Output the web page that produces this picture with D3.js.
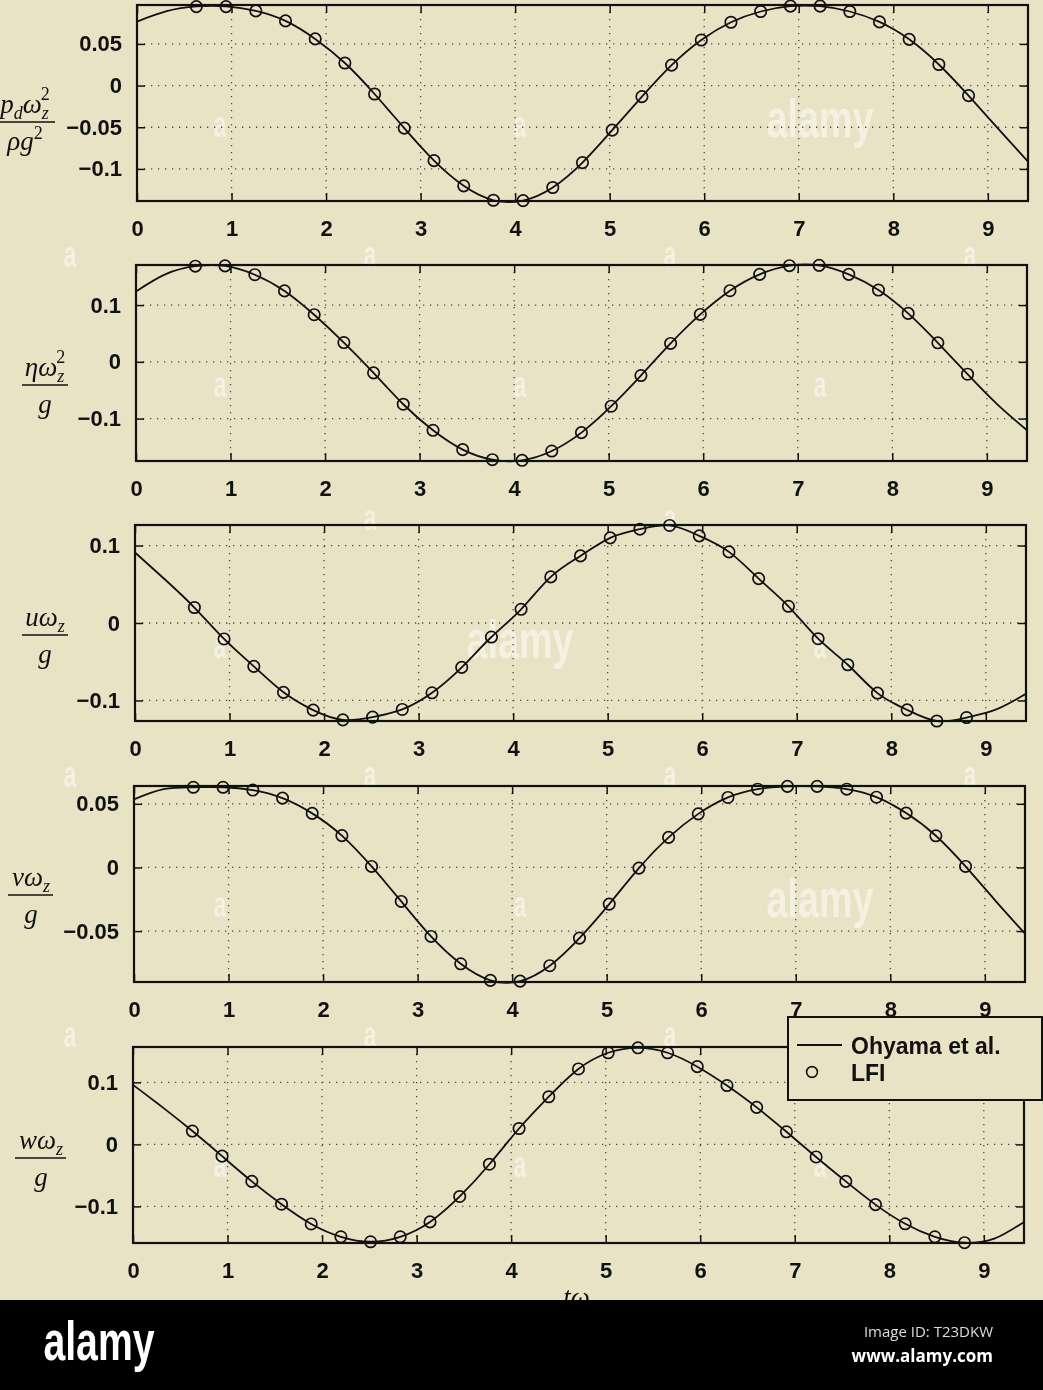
<!DOCTYPE html>
<html><head><meta charset="utf-8">
<script src="https://cdn.jsdelivr.net/npm/d3@7"></script>
<style>html,body{margin:0;padding:0;background:#e9e3c6;} svg{display:block}</style>
</head><body><svg id="c" width="1043" height="1390"></svg>
<script>
// ---- data ----
const tLine = [0, 0.314, 0.628, 0.942, 1.257, 1.571, 1.885, 2.199, 2.513, 2.827, 3.142, 3.456, 3.770, 4.084, 4.398, 4.712, 5.027, 5.341, 5.655, 5.969, 6.283, 6.597, 6.912, 7.226, 7.540, 7.854, 8.168, 8.482, 8.796, 9.111, 9.425];
const tLFI = [0.628, 0.942, 1.257, 1.571, 1.885, 2.199, 2.513, 2.827, 3.142, 3.456, 3.770, 4.084, 4.398, 4.712, 5.027, 5.341, 5.655, 5.969, 6.283, 6.597, 6.912, 7.226, 7.540, 7.854, 8.168, 8.482, 8.796];

const pOhyama = [0.0768, 0.0893, 0.0950, 0.0950, 0.0896, 0.0776, 0.0560, 0.0271, -0.0101, -0.0511, -0.0901, -0.1203, -0.1376, -0.1380, -0.1223, -0.0925, -0.0535, -0.0133, 0.0245, 0.0547, 0.0760, 0.0889, 0.0953, 0.0953, 0.0889, 0.0764, 0.0555, 0.0253, -0.0121, -0.0519, -0.0913];
const pLFI = [0.0948, 0.0948, 0.0896, 0.0776, 0.0560, 0.0271, -0.0101, -0.0511, -0.0901, -0.1203, -0.1376, -0.1380, -0.1223, -0.0925, -0.0535, -0.0133, 0.0245, 0.0547, 0.0760, 0.0889, 0.0953, 0.0953, 0.0889, 0.0764, 0.0555, 0.0253, -0.0121];

const etaOhyama = [0.1240, 0.1545, 0.1685, 0.1690, 0.1535, 0.1250, 0.0830, 0.0340, -0.0194, -0.0747, -0.1206, -0.1547, -0.1724, -0.1735, -0.1571, -0.1247, -0.0782, -0.0241, 0.0324, 0.0835, 0.1253, 0.1541, 0.1694, 0.1700, 0.1541, 0.1265, 0.0853, 0.0335, -0.0218, -0.0750, -0.1206];
const etaLFI = [0.1685, 0.1690, 0.1535, 0.1250, 0.0830, 0.0340, -0.0194, -0.0747, -0.1206, -0.1547, -0.1724, -0.1735, -0.1571, -0.1247, -0.0782, -0.0241, 0.0324, 0.0835, 0.1253, 0.1541, 0.1694, 0.1700, 0.1541, 0.1265, 0.0853, 0.0335, -0.0218];

const uOhyama = [0.0910, 0.0565, 0.0200, -0.0206, -0.0560, -0.0895, -0.1124, -0.1250, -0.1215, -0.1116, -0.0901, -0.0573, -0.0181, 0.0177, 0.0595, 0.0866, 0.1099, 0.1211, 0.1259, 0.1125, 0.0918, 0.0573, 0.0216, -0.0203, -0.0539, -0.0905, -0.1121, -0.1265, -0.1220, -0.1116, -0.0914];
const uLFI = [0.0200, -0.0206, -0.0560, -0.0895, -0.1124, -0.1250, -0.1215, -0.1116, -0.0901, -0.0573, -0.0181, 0.0177, 0.0595, 0.0866, 0.1099, 0.1211, 0.1259, 0.1125, 0.0918, 0.0573, 0.0216, -0.0203, -0.0539, -0.0905, -0.1121, -0.1265, -0.1220];

const vOhyama = [0.0535, 0.0615, 0.0630, 0.0630, 0.0608, 0.0545, 0.0425, 0.0250, 0.0008, -0.0267, -0.0542, -0.0757, -0.0887, -0.0893, -0.0772, -0.0555, -0.0288, -0.0005, 0.0236, 0.0421, 0.0550, 0.0615, 0.0637, 0.0637, 0.0615, 0.0552, 0.0427, 0.0249, 0.0008, -0.0260, -0.0520];
const vLFI = [0.0630, 0.0630, 0.0608, 0.0545, 0.0425, 0.0250, 0.0008, -0.0267, -0.0542, -0.0757, -0.0887, -0.0893, -0.0772, -0.0555, -0.0288, -0.0005, 0.0236, 0.0421, 0.0550, 0.0615, 0.0637, 0.0637, 0.0615, 0.0552, 0.0427, 0.0249, 0.0008];

const wOhyama = [0.0960, 0.0597, 0.0215, -0.0190, -0.0597, -0.0965, -0.1283, -0.1490, -0.1570, -0.1490, -0.1250, -0.0840, -0.0320, 0.0256, 0.0768, 0.1216, 0.1477, 0.1557, 0.1477, 0.1253, 0.0949, 0.0597, 0.0203, -0.0203, -0.0597, -0.0971, -0.1280, -0.1490, -0.1585, -0.1520, -0.1250];
const wLFI = [0.0215, -0.0190, -0.0597, -0.0965, -0.1283, -0.1490, -0.1570, -0.1490, -0.1250, -0.0840, -0.0320, 0.0256, 0.0768, 0.1216, 0.1477, 0.1557, 0.1477, 0.1253, 0.0949, 0.0597, 0.0203, -0.0203, -0.0597, -0.0971, -0.1280, -0.1490, -0.1585];

const xTicks = [0, 1, 2, 3, 4, 5, 6, 7, 8, 9];
const xDomain = [0, 9.425];
const yTicksP = [-0.1, -0.05, 0, 0.05];
const yTicksEta = [-0.1, 0, 0.1];
const yTicksU = [-0.1, 0, 0.1];
const yTicksV = [-0.05, 0, 0.05];
const yTicksW = [-0.1, 0, 0.1];
const yDomainP = [-0.1385, 0.0967];
const yDomainEta = [-0.1747, 0.1706];
const yDomainU = [-0.1265, 0.1265];
const yDomainV = [-0.0900, 0.0640];
const yDomainW = [-0.1590, 0.1570];
const legendLabels = ["Ohyama et al.", "LFI"];

// ---- layout ----
const BG = "#e9e3c6";
const svg = d3.select("#c");
svg.append("rect").attr("width", 1043).attr("height", 1390).attr("fill", BG);

// faint watermark layer (scan watermark)
const wm = svg.append("g").attr("fill", "#ffffff").attr("opacity", 0.5)
  .attr("font-family", "Liberation Sans, Arial, sans-serif").attr("font-weight", "bold");
const smallMarks = [[70, 267], [370, 267], [670, 267], [970, 267], [370, 530], [670, 530],
  [70, 787], [370, 787], [670, 787], [970, 787], [70, 1047], [370, 1047], [670, 1047],
  [220, 137], [520, 137], [220, 397], [520, 397], [820, 397], [220, 658], [820, 658],
  [220, 917], [520, 917], [220, 1177], [520, 1177], [820, 1177]];
const bigMarks = [[820, 137], [520, 658], [820, 917]];
smallMarks.forEach(([x, y]) => wm.append("text").attr("transform", `translate(${x},${y}) scale(0.62,1)`)
  .attr("text-anchor", "middle").attr("font-size", 36).text("a"));
bigMarks.forEach(([x, y]) => wm.append("text").attr("transform", `translate(${x},${y}) scale(0.7,1)`)
  .attr("text-anchor", "middle").attr("font-size", 54).text("alamy"));

const panels = [
  {top: 5, left: 137, yDomain: yDomainP, yTicks: yTicksP, line: pOhyama, pts: pLFI},
  {top: 265, left: 136, yDomain: yDomainEta, yTicks: yTicksEta, line: etaOhyama, pts: etaLFI},
  {top: 525, left: 135, yDomain: yDomainU, yTicks: yTicksU, line: uOhyama, pts: uLFI},
  {top: 786, left: 134, yDomain: yDomainV, yTicks: yTicksV, line: vOhyama, pts: vLFI},
  {top: 1047, left: 133, yDomain: yDomainW, yTicks: yTicksW, line: wOhyama, pts: wLFI}
];
const PW = 891, PH = 196, TICK = 8;
const tickFont = "Liberation Sans, Arial, Helvetica, sans-serif";
const fmtY = d => d < 0 ? "\u2212" + Math.abs(d) : String(d);

panels.forEach(p => {
  const x = d3.scaleLinear().domain(xDomain).range([p.left, p.left + PW]);
  const y = d3.scaleLinear().domain(p.yDomain).range([p.top + PH, p.top]);
  const g = svg.append("g");

  // grid
  const grid = g.append("g").attr("stroke", "#4a4a44").attr("stroke-width", 1.3)
    .attr("stroke-dasharray", "1.3,5.7");
  xTicks.filter(d => d > 0).forEach(d => grid.append("line")
    .attr("x1", x(d)).attr("x2", x(d)).attr("y1", p.top).attr("y2", p.top + PH));
  p.yTicks.forEach(d => grid.append("line")
    .attr("x1", p.left).attr("x2", p.left + PW).attr("y1", y(d)).attr("y2", y(d)));

  // axes with inward ticks
  const axB = d3.axisBottom(x).tickValues(xTicks).tickSizeInner(-TICK).tickSizeOuter(0).tickPadding(TICK + 11).tickFormat(d3.format("d"));
  const axT = d3.axisTop(x).tickValues(xTicks).tickSizeInner(-TICK).tickSizeOuter(0).tickFormat("");
  const axL = d3.axisLeft(y).tickValues(p.yTicks).tickSizeInner(-TICK).tickSizeOuter(0).tickPadding(TICK + 7).tickFormat(fmtY);
  const axR = d3.axisRight(y).tickValues(p.yTicks).tickSizeInner(-TICK).tickSizeOuter(0).tickFormat("");
  const ax = (gen, tr) => {
    const a = g.append("g").attr("transform", tr).call(gen);
    a.select(".domain").remove();
    a.selectAll("line").attr("stroke", "#111").attr("stroke-width", 1.5);
    a.selectAll("text").attr("font-family", tickFont).attr("font-size", 22)
      .attr("font-weight", "bold").attr("fill", "#111");
    return a;
  };
  ax(axB, `translate(0,${p.top + PH})`);
  ax(axT, `translate(0,${p.top})`);
  ax(axL, `translate(${p.left},0)`);
  ax(axR, `translate(${p.left + PW},0)`);

  // frame
  g.append("rect").attr("x", p.left).attr("y", p.top).attr("width", PW).attr("height", PH)
    .attr("fill", "none").attr("stroke", "#111").attr("stroke-width", 2.2);

  // Ohyama line
  const lineGen = d3.line().x((d, i) => x(tLine[i])).y(d => y(d)).curve(d3.curveNatural);
  g.append("path").attr("d", lineGen(p.line)).attr("fill", "none")
    .attr("stroke", "#111").attr("stroke-width", 1.8);

  // LFI circles
  g.selectAll("circle.lfi").data(p.pts).enter().append("circle")
    .attr("cx", (d, i) => x(tLFI[i])).attr("cy", d => y(d)).attr("r", 5.7)
    .attr("fill", "none").attr("stroke", "#111").attr("stroke-width", 1.7);
});

// ---- math labels ----
const serif = "Liberation Serif, Times New Roman, serif";
function mathText(x, y, parts) {
  const t = svg.append("text").attr("x", x).attr("y", y).attr("text-anchor", "middle")
    .attr("font-family", serif).attr("font-size", 27).attr("fill", "#111");
  let cur = 0;
  parts.forEach(([s, kind]) => {
    let off = 0, size = 27, style = "italic", dx = 0;
    if (kind === "sub") { off = 6; size = 18; }
    if (kind === "supstack") { off = -13; size = 18; style = "normal"; dx = -8; }
    if (kind === "sup") { off = -11; size = 18; style = "normal"; }
    const ts = t.append("tspan").attr("font-size", size).attr("font-style", style)
      .attr("dy", off - cur).text(s);
    if (dx) ts.attr("dx", dx);
    cur = off;
  });
}
function frac(cx, x0, x1, barY, num, den) {
  mathText(cx, barY - 9, num);
  svg.append("line").attr("x1", x0).attr("x2", x1).attr("y1", barY).attr("y2", barY)
    .attr("stroke", "#111").attr("stroke-width", 1.6);
  mathText(cx, barY + 28, den);
}
frac(25, 0, 55, 122, [["p"], ["d", "sub"], ["\u03c9"], ["z", "sub"], ["2", "supstack"]], [["\u03c1g"], ["2", "sup"]]);
frac(45, 22, 68, 385, [["\u03b7\u03c9"], ["z", "sub"], ["2", "supstack"]], [["g"]]);
frac(45, 22, 68, 635, [["u\u03c9"], ["z", "sub"]], [["g"]]);
frac(31, 8, 53, 895, [["v\u03c9"], ["z", "sub"]], [["g"]]);
frac(41, 15, 66, 1158, [["w\u03c9"], ["z", "sub"]], [["g"]]);
mathText(580, 1306, [["t\u03c9"], ["z", "sub"]]);

// ---- legend ----
const lg = svg.append("g");
lg.append("rect").attr("x", 788).attr("y", 1017).attr("width", 254).attr("height", 83)
  .attr("fill", BG).attr("stroke", "#111").attr("stroke-width", 2);
lg.append("line").attr("x1", 797).attr("x2", 842).attr("y1", 1045).attr("y2", 1045)
  .attr("stroke", "#111").attr("stroke-width", 1.8);
lg.append("circle").attr("cx", 812).attr("cy", 1072).attr("r", 5.4)
  .attr("fill", "none").attr("stroke", "#111").attr("stroke-width", 1.6);
lg.selectAll("text.lab").data(legendLabels).enter().append("text")
  .attr("x", 851).attr("y", (d, i) => 1054 + i * 27).text(d => d)
  .attr("font-family", tickFont).attr("font-size", 23).attr("font-weight", "bold").attr("fill", "#111");

// ---- bottom bar ----
svg.append("rect").attr("x", 0).attr("y", 1300).attr("width", 1043).attr("height", 90).attr("fill", "#000");
svg.append("text").attr("transform", "translate(99,1360) scale(0.7,1)").attr("text-anchor", "middle")
  .attr("font-family", tickFont).attr("font-weight", "bold").attr("font-size", 56).attr("fill", "#fff").text("alamy");
svg.append("text").attr("x", 993).attr("y", 1337).attr("text-anchor", "end")
  .attr("font-family", "Open Sans, DejaVu Sans, sans-serif").attr("font-size", 15).attr("fill", "#ddd").text("Image ID: T23DKW");
svg.append("text").attr("x", 993).attr("y", 1362).attr("text-anchor", "end")
  .attr("font-family", "Open Sans, DejaVu Sans, sans-serif").attr("font-weight", "bold").attr("font-size", 17).attr("fill", "#fff").text("www.alamy.com");
</script></body></html>
